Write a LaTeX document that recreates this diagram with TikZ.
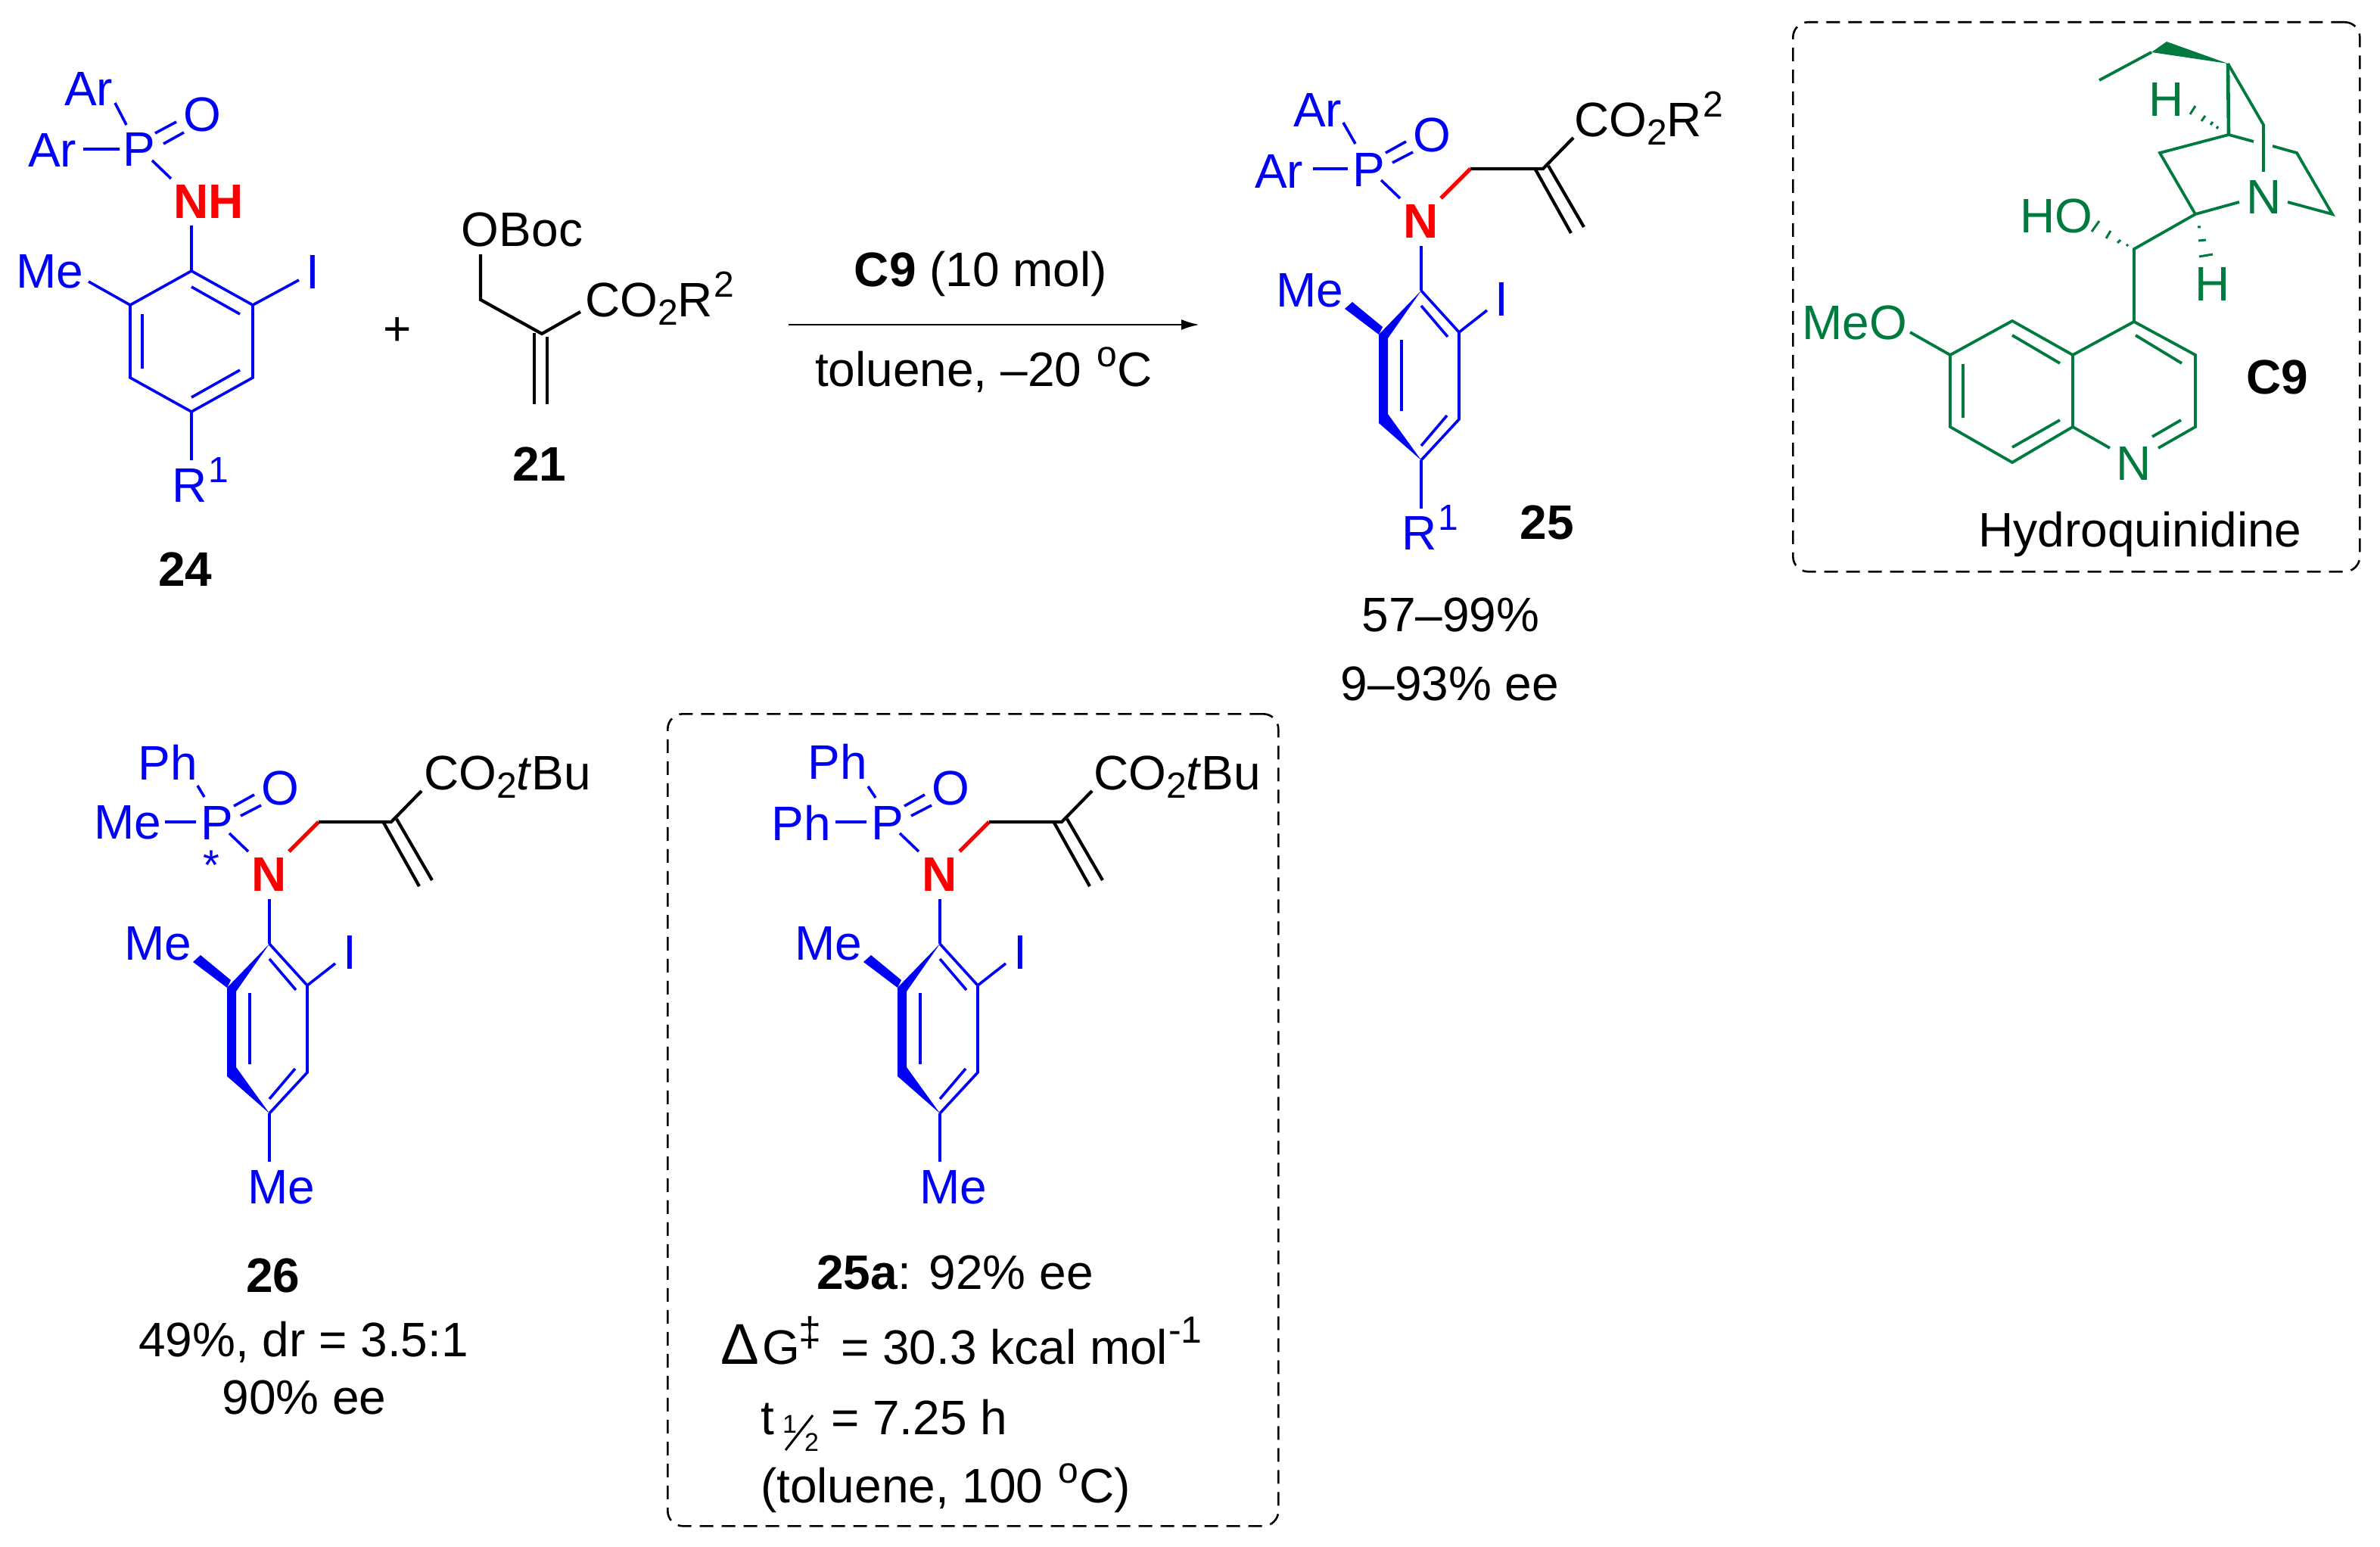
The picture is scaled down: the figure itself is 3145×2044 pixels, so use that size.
\documentclass[tikz,border=0pt]{standalone}
\usepackage{fontspec}
\setmainfont{Liberation Sans}
\usetikzlibrary{arrows.meta}
\definecolor{cblue}{RGB}{0,0,245}
\definecolor{cred}{RGB}{250,0,0}
\definecolor{cgreen}{RGB}{0,122,62}
\newcommand{\fsz}{\fontsize{64}{70}\selectfont}
\newcommand{\subt}[1]{\raisebox{-11pt}{\fontsize{48}{50}\selectfont #1}}
\newcommand{\supt}[1]{\kern2pt\raisebox{26pt}{\fontsize{48}{50}\selectfont #1}\kern1pt}
\tikzset{
  x=1pt,y=-1pt,
  lbl/.style={inner sep=0pt,outer sep=0pt,font=\fsz,text=black},
  blbl/.style={lbl,text=cblue},
  glbl/.style={lbl,text=cgreen},
  nred/.style={lbl,text=cred,font=\fsz\bfseries},
  cpd/.style={lbl,font=\fsz\bfseries},
  bondb/.style={draw=cblue,line width=3.6pt},
  bondbt/.style={draw=cblue,line width=4.6pt},
  bondk/.style={draw=black,line width=4.2pt},
  bondr/.style={draw=cred,line width=5pt},
  bondg/.style={draw=cgreen,line width=3.8pt},
  dbox/.style={draw=black,line width=2.6pt,rounded corners=20pt,dash pattern=on 18pt off 11pt},
  arrowline/.style={draw=black,line width=2.8pt,-{Latex[length=24pt,width=14pt]}},
  small/.style={lbl,font=\fontsize{34}{34}\selectfont},
}
% aryl phosphoryl amine core, positions relative to the N atom
\newcommand{\pcore}[1]{%
  \draw[bondb] (-47,-90) -- (-20,-105) (-38,-77) -- (-11,-91);
  \draw[bondb] (-53,-54) -- (-28,-30);
  \draw[bondb] (-138,-69) -- (-97,-69);
  \draw[bondr] (26,-30) -- (65,-69);
  \draw[bondk] (65,-69) -- (161,-69) -- (201,-110);
  \draw[bondk] (151,-68) -- (198,16) (168,-73) -- (215,8);
  \draw[bondb] (0,33) -- (0,92);
  \fill[cblue] (0,92) -- (-44,155) -- (-44,255) -- (0,316) -- (-56,267) -- (-56,150) -- cycle;
  \fill[cblue] (-101,116) -- (-91,107) -- (-51,140) -- (-56,150) -- cycle;
  \draw[bondb,line join=miter] (0,92) -- (50,147) -- (50,262) -- (0,316);
  \draw[bondb] (0,112) -- (35,153) (-26,157) -- (-26,251) (34,257) -- (0,297);
  \draw[bondb] (87,118) -- (50,147);
  \draw[bondb] (0,316) -- (0,380);
  \node[blbl] (#1P) at (-69,-68) {P};
  \node[blbl] (#1O) at (14,-114) {O};
  \node[nred] (#1N) at (0,0) {N};
  \node[blbl] (#1Me) at (-147,92) {Me};
  \node[blbl] (#1I) at (106,103) {I};
}
\begin{document}
\begin{tikzpicture}
\useasboundingbox (0,0) rectangle (3145,2044);

% ---- 24
\draw[bondb] (110,197) -- (158,197) (152,136) -- (167,165);
\draw[bondb] (205,176) -- (233,161) (216,190) -- (243,175);
\draw[bondb] (201,212) -- (226,236) (253,298) -- (253,358);
\draw[bondb,line join=miter] (253,358) -- (334,403) -- (334,499) -- (253,544) -- (172,499) -- (172,403) -- cycle;
\draw[bondb] (253,379) -- (317,415) (188,415) -- (188,487) (253,525) -- (317,489);
\draw[bondb] (117,372) -- (172,403) (395,370) -- (334,403) (253,544) -- (253,608);
\node[blbl] (a1) at (117,117) {Ar};
\node[blbl] (a2) at (69,198) {Ar};
\node[blbl] (pa) at (184,197) {P};
\node[blbl] (oa) at (267,151) {O};
\node[lbl,text=cred,font=\fsz\bfseries] (nha) at (276,266) {NH};
\node[blbl] (mea) at (66,359) {Me};
\node[blbl] (ia) at (413,359) {I};
\node[blbl,anchor=base west] (ra) at (227,663) {R\supt{1}};
\node[cpd] (c24) at (245,752) {24};
\node[lbl] (plus) at (525,438) {+};

% ---- 21
\draw[bondk,line join=miter] (635,336) -- (635,396) -- (716,441) -- (767,412);
\draw[bondk] (706,440) -- (706,534) (723,445) -- (723,534);
\node[lbl] (oboc) at (690,303) {OBoc};
\node[lbl,anchor=base west] (est21) at (773,418) {CO\subt{2}R\supt{2}};
\node[cpd] (c21) at (713,613) {21};

% ---- arrow
\coordinate (arrL) at (1042,429);
\coordinate (arrR) at (1585,429);
\draw[arrowline] (arrL) -- (arrR);
\node[lbl] (cond1) at (1296,362) {\textbf{C9} (10 mol)};
\node[lbl] (cond2) at (1300,489) {toluene, –20 \supt{o}C};

% ---- 25
\begin{scope}[shift={(1878,292)}]
  \pcore{b}
  \draw[bondb] (-143,-69) -- (-138,-69);
  \draw[bondb] (-103,-130) -- (-87,-102);
  \draw[bondbt] (0,33) -- (0,92) (0,316) -- (0,380);
  \node[blbl] (bAr1) at (-137,-147) {Ar};
  \node[blbl] (bAr2) at (-188,-66) {Ar};
  \node[lbl,anchor=base west] (bEst) at (202,-111) {CO\subt{2}R\supt{2}};
  \node[blbl,anchor=base west] (bR) at (-26,434) {R\supt{1}};
\end{scope}
\node[cpd] (c25) at (2044,690) {25};
\node[lbl] (y25) at (1917,812) {57–99\%};
\node[lbl] (e25) at (1916,903) {9–93\% ee};

% ---- C9 box
\node[dbox,inner sep=0pt,minimum width=749pt,minimum height=726pt,anchor=north west] (boxC) at (2368,28) {};
\draw[bondg,line join=miter] (2774,106) -- (2843,69);
\fill[cgreen] (2843,69) -- (2863,55) -- (2944,84) -- cycle;
\draw[bondg,line width=4.6pt] (2944,84) -- (2945,178);
\draw[bondg,line join=miter] (2944,84) -- (2991,165) -- (2991,227);
\draw[bondg] (2945,178) -- (2978,187) (3003,193) -- (3035,202) -- (3082,283) -- (3023,267);
\draw[bondg,line join=miter] (2945,178) -- (2854,202) -- (2901,283) -- (2959,267);
\draw[bondg] (2901,283) -- (2820,329) -- (2820,425);
\draw[bondg,line width=3pt] (2894,151) -- (2901,140) (2909,160) -- (2914,153) (2921,165) -- (2924,161) (2929,170) -- (2931,167);
\draw[bondg,line width=3pt] (2764,306) -- (2774,292) (2783,315) -- (2789,305) (2798,321) -- (2802,317) (2810,325) -- (2812,323);
\draw[bondg,line width=3pt] (2904,300) -- (2908,300) (2905,318) -- (2915,317) (2906,339) -- (2924,336);
\draw[bondg,line join=miter] (2739,564) -- (2739,469) -- (2659,424) -- (2577,469) -- (2577,564) -- (2659,611) -- cycle;
\draw[bondg,line join=miter] (2739,469) -- (2820,425) -- (2901,469) -- (2901,564) -- (2852,592);
\draw[bondg] (2739,564) -- (2788,592);
\draw[bondg] (2659,443) -- (2722,480) (2594,481) -- (2594,552) (2659,591) -- (2722,555) (2822,443) -- (2883,480) (2844,577) -- (2882,555);
\draw[bondg] (2524,439) -- (2577,469);
\node[glbl] (nq) at (2992,260) {N};
\node[glbl] (nq2) at (2820,612) {N};
\node[glbl] (h1) at (2863,131) {H};
\node[glbl] (h2) at (2924,375) {H};
\node[glbl] (ho) at (2717,285) {HO};
\node[glbl] (meo) at (2451,426) {MeO};
\node[cpd] (c9) at (3009,498) {C9};
\node[lbl] (hq) at (2828,706) {Hydroquinidine};

% ---- 26
\begin{scope}[shift={(356,1155)}]
  \pcore{c}
  \draw[bondb] (-95,-117) -- (-86,-102);
  \draw[bondbt] (0,33) -- (0,92) (0,316) -- (0,380);
  \node[blbl] (cPh) at (-134,-148) {Ph};
  \node[blbl] (cMe2) at (-187,-68) {Me};
  \node[lbl,anchor=base west] (cEst) at (204,-112) {CO\subt{2}\textit{t}Bu};
  \node[blbl] (cMe3) at (16,414) {Me};
  \node[lbl,text=cblue,font=\fontsize{56}{56}\selectfont] (cStar) at (-77,-12) {*};
\end{scope}
\node[cpd] (c26) at (361,1685) {26};
\node[lbl] (y26) at (401,1773) {49\%, dr = 3.5:1};
\node[lbl] (e26) at (402,1846) {90\% ee};

% ---- 25a box
\node[dbox,inner sep=0pt,minimum width=807pt,minimum height=1073pt,anchor=north west] (boxA) at (881,942) {};
\begin{scope}[shift={(1242,1155)}]
  \pcore{d}
  \draw[bondb] (-95,-116) -- (-85,-101);
  \node[blbl] (dPh1) at (-135,-149) {Ph};
  \node[blbl] (dPh2) at (-183,-68) {Ph};
  \node[lbl,anchor=base west] (dEst) at (203,-112) {CO\subt{2}\textit{t}Bu};
  \node[blbl] (dMe3) at (18,414) {Me};
\end{scope}
\node[lbl,anchor=base west] (t1) at (1079,1703) {\textbf{25a}: 92\% ee};
\node[lbl,anchor=base west,font=\fontsize{76}{76}\selectfont] (t2z) at (952,1802) {Δ};
\node[lbl,anchor=base west] (t2a) at (1007,1802) {G};
\node[lbl,anchor=base west,font=\fontsize{54}{54}\selectfont] (t2b) at (1055,1778) {‡};
\node[lbl,anchor=base west] (t2c) at (1111,1802) {= 30.3 kcal mol\kern1pt\raisebox{28pt}{\fontsize{50}{50}\selectfont -1}};
\node[lbl,anchor=base west] (t3a) at (1005,1895) {t};
\node[small,anchor=base west] (t3b) at (1034,1893) {1};
\node[small,anchor=base west] (t3c) at (1063,1917) {2};
\coordinate (slashA) at (1038,1916);
\coordinate (slashB) at (1074,1870);
\draw[draw=black,line width=3pt] (slashA) -- (slashB);
\node[lbl,anchor=base west] (t3d) at (1098,1895) {= 7.25 h};
\node[lbl,anchor=base west] (t4) at (1005,1985) {(toluene, 100 \supt{o}C)};
\end{tikzpicture}
\end{document}
